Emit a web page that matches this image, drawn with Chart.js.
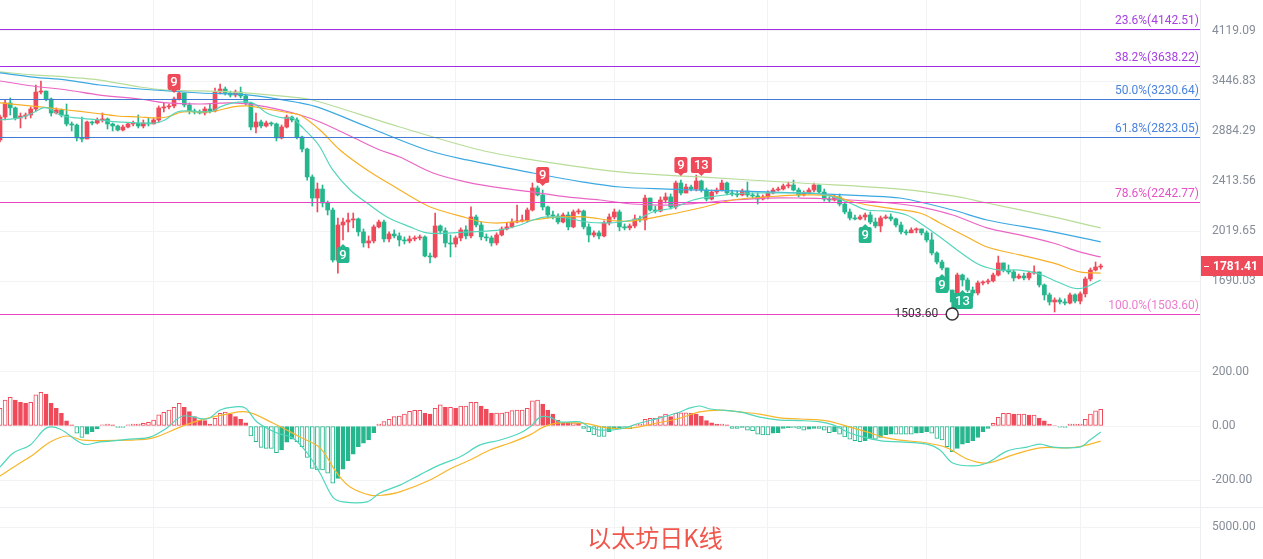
<!DOCTYPE html>
<html>
<head>
<meta charset="utf-8">
<script src="https://cdn.jsdelivr.net/npm/chart.js@4.4.1/dist/chart.umd.min.js"></script>
<style>
  html, body { margin: 0; padding: 0; background: #fff; }
  #wrap { position: relative; width: 1263px; height: 559px; overflow: hidden; }
  .pane { position: absolute; left: 0; width: 1263px; }
  #pPrice { top: 0; height: 345px; }
  #pMacd { top: 345px; height: 162px; }
  #pVol { top: 507px; height: 52px; border-top: 1px solid #eceef1; box-sizing: border-box; }
  #title { position: absolute; left: 555px; width: 200px; top: 522px; text-align: center;
           font: 24px "Noto Sans CJK SC", sans-serif; line-height: 30px; color: #f0564c; }
</style>
</head>
<body>
<div id="wrap">
  <div class="pane" id="pPrice"><canvas id="cPrice" width="1263" height="345"></canvas></div>
  <div class="pane" id="pMacd"><canvas id="cMacd" width="1263" height="162"></canvas></div>
  <div class="pane" id="pVol"><canvas id="cVol" width="1263" height="51"></canvas></div>
  <div id="title">以太坊日K线</div>
</div>
<script>
// ===== data =====
const firstOpen = 2794;
const closes = [
  3032, 3188, 3132, 3022, 3043, 3054, 3120, 3314, 3326, 3233,
  3076, 3109, 3054, 2958, 2947, 2814, 2804, 2979, 2968, 3000,
  3011, 2958, 2937, 2895, 2926, 2958, 2968, 2937, 2968, 2958,
  3000, 3132, 3143, 3154, 3233, 3303, 3165, 3098, 3087, 3076,
  3120, 3098, 3314, 3350, 3303, 3279, 3314, 3268, 3188, 2926,
  2979, 2937, 2968, 2958, 2814, 2926, 3032, 3000, 2824, 2705,
  2449, 2272, 2346, 2232, 2177, 1822, 2064, 2086, 2101, 2109,
  2014, 1936, 1950, 2050, 2086, 1964, 1999, 1985, 1957, 1950,
  1964, 1971, 1978, 1848, 1842, 2057, 2021, 1936, 1929, 1971,
  2028, 1985, 2124, 2064, 1978, 1971, 1936, 1992, 2035, 2050,
  2086, 2094, 2101, 2177, 2355, 2297, 2201, 2139, 2131, 2086,
  2139, 2050, 2162, 2169, 2050, 1992, 2007, 1985, 2079, 2124,
  2162, 2050, 2043, 2057, 2109, 2101, 2272, 2177, 2169, 2256,
  2281, 2201, 2397, 2313, 2363, 2346, 2414, 2338, 2264, 2321,
  2338, 2397, 2313, 2305, 2297, 2330, 2297, 2289, 2264, 2281,
  2313, 2338, 2346, 2372, 2380, 2338, 2297, 2313, 2338, 2380,
  2321, 2264, 2256, 2281, 2224, 2162, 2116, 2109, 2124, 2139,
  2086, 2057, 2116, 2124, 2109, 2064, 2014, 2007, 2028, 2035,
  2007, 1957, 1868, 1809, 1771, 1637, 1569, 1727, 1697, 1637,
  1620, 1679, 1685, 1691, 1727, 1803, 1758, 1746, 1709, 1721,
  1709, 1739, 1746, 1667, 1609, 1569, 1580, 1569, 1563, 1609,
  1574, 1615, 1703, 1758, 1777, 1781.41
];
const highs = [
  3054, 3221, 3245, 3143, 3076, 3076, 3143, 3398, 3447, 3326,
  3245, 3132, 3120, 3176, 2979, 2958, 3032, 2989, 2989, 3022,
  3076, 3022, 2968, 2947, 2947, 2968, 2989, 3054, 3000, 3022,
  3022, 3154, 3188, 3176, 3256, 3350, 3303, 3188, 3120, 3109,
  3143, 3176, 3362, 3410, 3374, 3326, 3338, 3374, 3291, 3199,
  3076, 3000, 2989, 2979, 2968, 2947, 3054, 3043, 3022, 2834,
  2715, 2466, 2397, 2380, 2248, 2193, 2116, 2116, 2154, 2154,
  2116, 2035, 1985, 2064, 2101, 2101, 2014, 2028, 2007, 1978,
  1985, 1985, 1992, 1985, 1868, 2154, 2064, 2043, 1992, 1985,
  2043, 2057, 2201, 2139, 2086, 1999, 1985, 2007, 2050, 2079,
  2109, 2216, 2139, 2193, 2397, 2372, 2338, 2208, 2169, 2147,
  2154, 2162, 2177, 2185, 2177, 2072, 2021, 2021, 2094, 2147,
  2185, 2177, 2072, 2072, 2139, 2131, 2297, 2272, 2208, 2281,
  2313, 2305, 2414, 2422, 2388, 2380, 2466, 2422, 2355, 2338,
  2355, 2422, 2405, 2338, 2330, 2346, 2405, 2313, 2313, 2297,
  2330, 2355, 2363, 2388, 2405, 2422, 2355, 2330, 2355, 2397,
  2380, 2346, 2281, 2297, 2305, 2240, 2185, 2139, 2139, 2154,
  2162, 2116, 2131, 2139, 2147, 2116, 2086, 2028, 2043, 2043,
  2035, 2021, 2007, 1875, 1822, 1771, 1637, 1739, 1733, 1709,
  1655, 1691, 1691, 1703, 1739, 1848, 1803, 1790, 1758, 1733,
  1739, 1752, 1784, 1746, 1673, 1620, 1592, 1592, 1586, 1620,
  1615, 1626, 1715, 1771, 1809, 1796
];
const lows = [
  2774, 3000, 3054, 3000, 2916, 3011, 3022, 3098, 3291, 3210,
  3043, 3065, 3032, 2937, 2885, 2784, 2774, 2804, 2947, 2958,
  2979, 2905, 2885, 2885, 2885, 2916, 2937, 2916, 2916, 2937,
  2958, 2979, 3087, 3120, 3132, 3221, 3143, 3065, 3065, 3065,
  3054, 3076, 3087, 3291, 3279, 3256, 3256, 3245, 3165, 2895,
  2864, 2916, 2926, 2937, 2784, 2804, 2916, 2979, 2804, 2677,
  2422, 2208, 2162, 2201, 2139, 1809, 1739, 1957, 2014, 2043,
  1985, 1908, 1902, 1936, 2043, 1943, 1943, 1971, 1915, 1929,
  1936, 1950, 1957, 1842, 1803, 1835, 1999, 1908, 1842, 1908,
  1950, 1964, 1971, 2050, 1957, 1950, 1915, 1922, 1985, 2028,
  2043, 2079, 2086, 2086, 2169, 2289, 2177, 2116, 2109, 2072,
  2079, 2028, 2043, 2147, 2035, 1943, 1978, 1964, 1978, 2064,
  2109, 2021, 2028, 2028, 2043, 2086, 2028, 2169, 2154, 2162,
  2232, 2185, 2185, 2297, 2313, 2330, 2330, 2321, 2248, 2256,
  2305, 2330, 2297, 2289, 2281, 2289, 2281, 2272, 2224, 2256,
  2264, 2305, 2330, 2338, 2355, 2330, 2281, 2289, 2305, 2321,
  2313, 2248, 2240, 2248, 2208, 2147, 2101, 2101, 2101, 2101,
  2072, 2043, 2014, 2109, 2094, 2050, 1999, 1992, 2007, 2007,
  1992, 1943, 1855, 1796, 1758, 1626, 1503.6, 1552, 1661, 1626,
  1603, 1609, 1667, 1673, 1685, 1721, 1746, 1733, 1691, 1703,
  1697, 1697, 1733, 1655, 1580, 1552, 1514, 1558, 1552, 1558,
  1563, 1558, 1597, 1691, 1752, 1764
];

// moving averages: [candle index, price]
const maTeal = [[0,3000],[3.9,3022],[6.4,3076],[8.4,3132],[9.8,3120],[11.7,3054],[15,3022],[19.5,3000],[22.9,2979],[27.3,2968],[30.3,2968],[32.2,3000],[34.6,3087],[37.1,3098],[39.1,3087],[41.6,3098],[43,3143],[45.5,3188],[48.2,3199],[49.8,3176],[52.1,3076],[55.3,3022],[57.2,3022],[58.6,2947],[61.1,2814],[62.5,2725],[65,2511],[68.4,2338],[71.7,2232],[75.6,2124],[80.1,2050],[83.4,2007],[88.5,2007],[92.4,2014],[97.7,2028],[101.6,2064],[104.1,2101],[106.8,2124],[110.7,2116],[114.6,2086],[118.6,2079],[121.1,2086],[125,2116],[127.5,2162],[131.4,2193],[135.4,2256],[138.7,2281],[143.2,2305],[147.1,2313],[153.7,2313],[158.8,2313],[162.7,2281],[166,2232],[169.3,2177],[173.2,2169],[177.1,2139],[179.7,2079],[183.6,1978],[187.5,1875],[191.4,1790],[195.3,1758],[199.2,1758],[202.5,1739],[205.7,1697],[209.6,1649],[211.5,1649],[215,1697]];
const maOrange = [[0,3188],[3.9,3165],[7.8,3143],[13.1,3109],[18.2,3076],[22.9,3043],[27.3,3032],[30.3,3022],[32.6,3032],[35.7,3087],[41,3087],[45.5,3143],[48.2,3154],[52.1,3120],[56.6,3076],[58.6,3054],[62.5,2895],[66.4,2696],[71.7,2511],[78.1,2338],[81.4,2256],[84.6,2193],[91.2,2116],[94.3,2086],[97.7,2079],[104.1,2101],[109.4,2124],[113.9,2124],[120.5,2094],[123.6,2094],[130.3,2139],[136.7,2193],[143.2,2256],[149.8,2281],[156.3,2297],[162.7,2289],[166.6,2240],[173.2,2193],[179.7,2154],[183.6,2079],[188.9,1978],[192.8,1908],[199.2,1855],[205.7,1803],[210.9,1746],[215,1739]];
const maPink = [[0,3447],[6.4,3386],[13.1,3338],[19.5,3279],[27.3,3233],[32.6,3188],[39.1,3176],[45.5,3188],[52.1,3143],[58.6,3054],[62.5,2979],[68.4,2834],[74.2,2696],[78.1,2630],[84.6,2484],[91.2,2405],[97.7,2355],[104.1,2321],[110.7,2281],[117.2,2256],[123.6,2224],[130.3,2216],[136.7,2232],[143.2,2256],[149.8,2272],[156.3,2272],[162.7,2264],[169.3,2248],[175.8,2224],[179.7,2201],[186.1,2139],[192.8,2043],[199.2,1992],[205.7,1936],[210.9,1875],[215,1842]];
const maBlue = [[0,3548],[6.4,3496],[13.1,3459],[19.5,3398],[27.3,3350],[39.1,3303],[48.8,3279],[58.6,3188],[62.5,3132],[72.3,2916],[83.4,2696],[91.2,2602],[104.1,2484],[113.9,2405],[121.1,2363],[130.3,2346],[143.2,2330],[156.3,2313],[169.3,2289],[175.8,2272],[186.1,2177],[192.8,2101],[205.7,2014],[215,1943]];
const maGreen = [[0,3560],[6.4,3523],[13.1,3496],[19.5,3459],[27.3,3374],[32.6,3338],[45.5,3314],[58.6,3245],[62.5,3199],[78.1,2926],[93.8,2696],[104.1,2602],[121.1,2493],[136.7,2449],[156.3,2397],[175.8,2346],[186.1,2289],[192.8,2232],[205.7,2124],[215,2043]];

// MACD histogram, one per candle
const macdHist = [
  65, 96, 106, 96, 88, 84, 88, 115, 125, 118,
  84, 65, 47, 19, 4, -27, -42, -30, -21, -11,
  4, 7, 4, -5, -5, 4, 7, 7, 10, 14,
  22, 41, 51, 59, 69, 84, 69, 53, 35, 22,
  20, 7, 28, 47, 52, 43, 35, 25, 12, -37,
  -58, -79, -83, -83, -99, -89, -60, -49, -58, -77,
  -116, -157, -163, -163, -175, -212, -194, -160, -128, -104,
  -77, -64, -52, -25, 7, 16, 25, 35, 37, 44,
  54, 58, 58, 47, 44, 65, 78, 69, 69, 65,
  74, 74, 88, 88, 74, 63, 48, 48, 48, 52,
  57, 59, 59, 65, 93, 96, 81, 59, 44, 22,
  14, 12, 12, 10, -9, -21, -33, -39, -39, -21,
  -12, -10, -10, -10, 4, 7, 25, 28, 28, 35,
  44, 35, 47, 49, 49, 47, 44, 37, 20, 12,
  7, 7, 4, -9, -9, -5, -15, -17, -30, -33,
  -33, -27, -25, -9, -6, -6, -9, -15, -12, -9,
  -9, -15, -25, -21, -30, -40, -49, -54, -58, -54,
  -46, -49, -42, -33, -30, -30, -30, -30, -30, -27,
  -25, -21, -27, -46, -52, -77, -95, -83, -67, -62,
  -54, -42, -21, -9, 10, 32, 47, 47, 44, 44,
  44, 40, 40, 28, 19, 7, 2, -4, -5, 7,
  7, 7, 25, 44, 56, 62
];
const macdDif = [[0,-152],[2.6,-100],[5.9,-70],[9.1,-7],[11.7,-11],[16.3,-67],[19.5,-59],[26,-48],[29.3,-41],[32.6,-7],[35.7,37],[40.4,26],[43,59],[45.5,70],[47.9,67],[50.2,15],[54.1,-26],[57.2,-44],[60,-100],[62.5,-174],[65,-263],[67,-281],[71.7,-281],[74.2,-248],[78.1,-219],[82,-181],[85.9,-144],[89.8,-115],[93.8,-70],[97.7,-52],[101.6,-26],[103.5,-4],[105.5,33],[107.4,33],[109.4,15],[113.3,15],[115.2,-4],[117.2,-15],[121.1,-11],[125,11],[128.9,30],[132.8,52],[134.8,67],[136.7,74],[138.7,63],[144.5,52],[148.4,33],[152.3,22],[156.3,20],[160.2,15],[162.7,4],[166,-26],[169.3,-44],[172.5,-56],[175.8,-59],[181.1,-67],[183.6,-89],[186.1,-137],[190,-148],[192.8,-137],[196.7,-93],[200.6,-78],[203.1,-67],[205.7,-78],[210.9,-78],[212.9,-52],[215,-22]];
const macdDea = [[0,-185],[3.3,-144],[6.4,-107],[9.8,-59],[13.1,-37],[16.2,-52],[26,-52],[29.9,-44],[35.2,-4],[39.1,22],[44.3,44],[48.2,52],[53.3,11],[58.6,-41],[62.5,-81],[65.8,-174],[68.4,-226],[72.3,-256],[74.8,-256],[78.1,-244],[84,-200],[87.9,-159],[91.8,-126],[95.7,-89],[99.6,-63],[103.5,-33],[106.1,-4],[108.8,11],[113.3,11],[115.2,7],[118.6,-7],[123.6,-7],[128.3,11],[132.2,26],[136.7,52],[140.6,59],[144.5,52],[148.4,44],[152.3,30],[156.3,26],[161.5,19],[166,-4],[169.3,-22],[172.5,-41],[175.8,-52],[181.1,-63],[185,-81],[188.9,-122],[192.8,-137],[197.9,-107],[203.1,-81],[208.4,-81],[211.5,-74],[215,-56]];

// axes, levels, markers
const priceTicks = [1690.03, 2019.65, 2413.56, 2884.29, 3446.83, 4119.09];
const macdTicks = [-200, 0, 200];
const volTicks = [5000];
const monthStarts = [30, 61, 89, 120, 150, 181, 211];
const fibLevels = ['23.6%', '38.2%', '50.0%', '61.8%', '78.6%', '100.0%'];
const fibPrices = [4142.51, 3638.22, 3230.64, 2823.05, 2242.77, 1503.60];
const tdIndex = [34, 106, 133, 137, 67, 169, 184, 188];
const tdText  = ['9', '9', '9', '13', '9', '9', '9', '13'];
const tdUp    = [true, true, true, true, false, false, false, false];
const lowIndex = 186, lowPrice = 1503.60;

// ===== styles =====
const RED = '#ef4a5a', GREEN = '#26b68d';
const fibLine = ['#a52ae3', '#a52ae3', '#4479d4', '#4479d4', '#e845c4', '#e845c4'];
const fibText = ['#a640e0', '#a640e0', '#4a83dc', '#4a83dc', '#e552c6', '#ea7ccf'];
const GRID = '#f2f3f5';
Chart.defaults.font.family = 'Roboto, sans-serif';
Chart.defaults.font.size = 12;
Chart.defaults.color = '#858d98';

const opens = closes.map((c, i) => i === 0 ? firstOpen : closes[i - 1]);
const up = i => closes[i] >= opens[i];
const pts = arr => arr.map(([x, y]) => ({ x, y }));

function xAxis() {
  return {
    type: 'linear', min: 0, max: 234.4, offset: false,
    afterBuildTicks: s => { s.ticks = monthStarts.map(v => ({ value: v })); },
    afterFit: s => { s.paddingLeft = 0; s.paddingRight = 0; s.paddingTop = 0; s.paddingBottom = 0; },
    ticks: { display: false },
    grid: { color: GRID, drawTicks: false, offset: false },
    border: { display: false }
  };
}
function yAxis(extra, tickVals) {
  return Object.assign({
    position: 'right',
    afterBuildTicks: s => { s.ticks = tickVals.map(v => ({ value: v })); },
    afterFit: s => { s.width = 63; s.paddingTop = 0; s.paddingBottom = 0; },
    ticks: { padding: 12, callback: v => Number(v).toFixed(2) },
    grid: { color: GRID, drawTicks: false },
    border: { display: true, color: '#eceef1' }
  }, extra);
}
const base = {
  responsive: false, animation: false, events: [],
  layout: { padding: 0 },
  plugins: { legend: { display: false }, tooltip: { enabled: false } }
};
const line = (data, color, w) => ({
  type: 'line', data: pts(data), borderColor: color, borderWidth: w || 1.2,
  pointRadius: 0, tension: 0.35, order: 0, fill: false
});

// ===== price pane overlay =====
const overlay = {
  id: 'overlay',
  afterDatasetsDraw(chart) {
    const { ctx, chartArea: a, scales: { x, y } } = chart;
    ctx.save();
    // fibonacci levels
    fibPrices.forEach((p, k) => {
      const py = Math.round(y.getPixelForValue(p)) + 0.5;
      ctx.strokeStyle = fibLine[k]; ctx.lineWidth = 1;
      ctx.beginPath(); ctx.moveTo(a.left, py); ctx.lineTo(a.right, py); ctx.stroke();
      ctx.fillStyle = fibText[k]; ctx.font = '12px Roboto';
      ctx.textAlign = 'right'; ctx.textBaseline = 'bottom';
      ctx.fillText(`${fibLevels[k]}(${p.toFixed(2)})`, a.right - 1, py - 3);
    });
    // TD sequential labels
    tdIndex.forEach((i, k) => {
      const cx = x.getPixelForValue(i);
      ctx.font = '500 13px Roboto';
      const w = Math.round(ctx.measureText(tdText[k]).width) + 6, h = 16;
      let top;
      if (tdUp[k]) top = y.getPixelForValue(highs[i]) - 7 - h;
      else top = y.getPixelForValue(lows[i]) + 7;
      ctx.fillStyle = tdUp[k] ? RED : GREEN;
      ctx.beginPath(); ctx.roundRect(cx - w / 2, top, w, h, 2); ctx.fill();
      ctx.beginPath();
      if (tdUp[k]) { ctx.moveTo(cx - 3, top + h); ctx.lineTo(cx + 3, top + h); ctx.lineTo(cx, top + h + 3); }
      else { ctx.moveTo(cx - 3, top); ctx.lineTo(cx + 3, top); ctx.lineTo(cx, top - 3); }
      ctx.fill();
      ctx.fillStyle = '#fff'; ctx.textAlign = 'center'; ctx.textBaseline = 'middle';
      ctx.fillText(tdText[k], cx, top + h / 2 + 1);
    });
    // lowest price marker
    const lx = x.getPixelForValue(lowIndex), ly = y.getPixelForValue(lowPrice);
    ctx.beginPath(); ctx.arc(lx, ly, 6, 0, Math.PI * 2);
    ctx.fillStyle = '#fff'; ctx.fill();
    ctx.strokeStyle = '#333'; ctx.lineWidth = 1.5; ctx.stroke();
    ctx.fillStyle = '#333'; ctx.font = '12px Roboto';
    ctx.textAlign = 'right'; ctx.textBaseline = 'middle';
    ctx.fillText(lowPrice.toFixed(2), lx - 14, ly);
    // last price tag
    const last = closes[closes.length - 1];
    const ty = Math.round(y.getPixelForValue(last));
    ctx.fillStyle = RED; ctx.fillRect(a.right + 1, ty - 10, 63, 20);
    ctx.fillStyle = '#fff'; ctx.fillRect(a.right + 4, ty, 5, 1);
    ctx.font = 'bold 12px Roboto'; ctx.textAlign = 'left';
    ctx.fillText(last.toFixed(2), a.right + 13, ty + 1);
    ctx.restore();
  }
};

// ===== price chart =====
new Chart(document.getElementById('cPrice'), {
  type: 'bar',
  data: {
    datasets: [
      line(maTeal, '#55d5bb'), line(maOrange, '#f7b026'), line(maPink, '#ea66c4'),
      line(maBlue, '#3ba8e2'), line(maGreen, '#b7dd99'),
      {
        data: closes.map((c, i) => ({ x: i, y: [opens[i], c] })),
        backgroundColor: c => up(c.dataIndex) ? RED : GREEN,
        barThickness: 4, minBarLength: 1, grouped: false, order: 1
      },
      {
        data: closes.map((c, i) => ({ x: i, y: [lows[i], highs[i]] })),
        backgroundColor: c => up(c.dataIndex) ? RED : GREEN,
        barThickness: 1, grouped: false, order: 2
      }
    ]
  },
  options: Object.assign({}, base, {
    scales: {
      x: xAxis(),
      y: yAxis({ type: 'logarithmic', min: 1346, max: 4600 }, priceTicks)
    }
  }),
  plugins: [overlay]
});

// ===== MACD chart =====
new Chart(document.getElementById('cMacd'), {
  type: 'bar',
  data: {
    datasets: [
      line(macdDif, '#4fd6bd'), line(macdDea, '#f8b62b'),
      {
        data: macdHist.map((v, i) => ({ x: i, y: v })),
        backgroundColor: c => {
          const i = c.dataIndex, v = macdHist[i], p = i ? macdHist[i - 1] : 0;
          if (v >= 0) return v >= p ? '#fff' : RED;
          return v <= p ? '#fff' : GREEN;
        },
        borderColor: c => macdHist[c.dataIndex] >= 0 ? RED : GREEN,
        borderWidth: 1, borderSkipped: false,
        barThickness: 4, grouped: false, order: 1
      }
    ]
  },
  options: Object.assign({}, base, {
    scales: { x: xAxis(), y: yAxis({ type: 'linear', min: -300, max: 300 }, macdTicks) }
  })
});

// ===== bottom pane =====
new Chart(document.getElementById('cVol'), {
  type: 'bar',
  data: { datasets: [{ data: [] }] },
  options: Object.assign({}, base, {
    scales: { x: xAxis(), y: yAxis({ type: 'linear', min: 0, max: 7969 }, volTicks) }
  })
});
</script>
</body>
</html>
